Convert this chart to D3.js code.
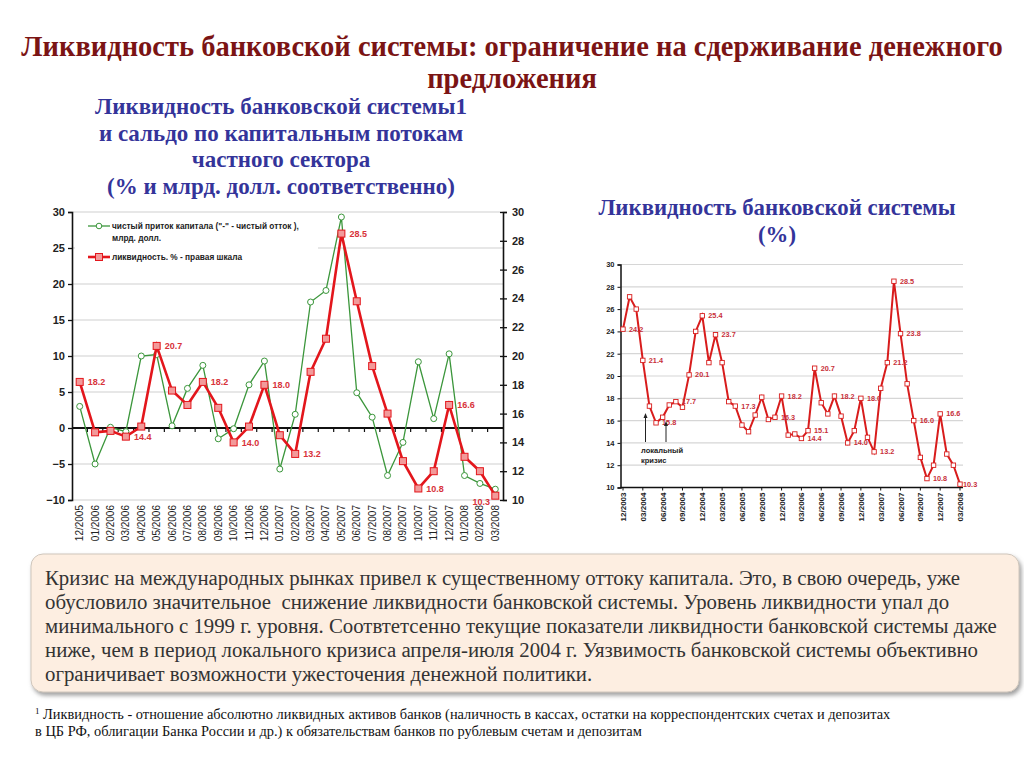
<!DOCTYPE html>
<html><head><meta charset="utf-8">
<script src="https://cdn.jsdelivr.net/npm/d3@7"></script>
<style>
html,body{margin:0;padding:0;background:#fff;}
svg{display:block;}
</style></head>
<body>
<svg id="chart" width="1024" height="767"></svg>
<script>
// ---------- DATA ----------
const months = ["12/2003","01/2004","02/2004","03/2004","04/2004","05/2004","06/2004","07/2004","08/2004","09/2004","10/2004","11/2004","12/2004",
"01/2005","02/2005","03/2005","04/2005","05/2005","06/2005","07/2005","08/2005","09/2005","10/2005","11/2005","12/2005",
"01/2006","02/2006","03/2006","04/2006","05/2006","06/2006","07/2006","08/2006","09/2006","10/2006","11/2006","12/2006",
"01/2007","02/2007","03/2007","04/2007","05/2007","06/2007","07/2007","08/2007","09/2007","10/2007","11/2007","12/2007",
"01/2008","02/2008","03/2008"];
// liquidity of banking system, %
const liquidity = [24.2,27.1,26.0,21.4,17.3,15.8,16.3,17.4,17.7,17.2,20.1,24.0,25.4,
21.2,23.7,21.2,17.7,17.3,15.6,15.0,16.5,18.1,16.1,16.3,18.2,
14.7,14.8,14.4,15.1,20.7,17.6,16.6,18.2,16.4,14.0,15.1,18.0,
14.5,13.2,18.9,21.2,28.5,23.8,19.3,16.0,12.7,10.8,12.0,16.6,
13.0,12.0,10.3];
// left chart categories (12/2005 - 03/2008)
const leftCategories = months.slice(24);
// net private capital inflow, bn USD
const capitalFlow = [3.0,-5.0,0.1,-0.5,10.0,10.2,0.3,5.5,8.7,-1.5,-0.1,6.0,9.3,-5.7,1.9,17.5,19.1,29.3,4.9,1.5,-6.6,-2.0,9.2,1.3,10.3,-6.6,-7.7,-8.5];
const leftLiquidity = liquidity.slice(24);
const leftLabelIdx = [0,3,5,8,10,12,14,17,22,24,27];
const rightLabelIdx = [0,3,5,8,10,12,14,17,23,24,27,28,29,32,34,36,38,40,41,42,44,46,48,51];
const leftTicksL = [-10,-5,0,5,10,15,20,25,30];
const leftTicksR = [10,12,14,16,18,20,22,24,26,28,30];
const rightTicks = [10,12,14,16,18,20,22,24,26,28,30];
const legendLabels = ['чистый приток капитала ("-" - чистый отток ),','млрд. долл.','ликвидность. % - правая шкала'];

const svg = d3.select("#chart");
const defs = svg.append("defs");
const f = defs.append("filter").attr("id","sh").attr("x","-5%").attr("y","-10%").attr("width","112%").attr("height","130%");
f.append("feDropShadow").attr("dx",2).attr("dy",3).attr("stdDeviation",2).attr("flood-color","#777").attr("flood-opacity",0.7);

// ---------- TITLES ----------
const serif = "'Liberation Serif','Times New Roman',serif";
const sans = "'Liberation Sans',Arial,sans-serif";
svg.append("text").attr("x",512).attr("y",56).attr("text-anchor","middle")
  .style("font-family",serif).style("font-weight","bold").style("font-size","28.5px").attr("fill","#7b1414")
  .text("Ликвидность банковской системы: ограничение на сдерживание денежного");
svg.append("text").attr("x",512).attr("y",88).attr("text-anchor","middle")
  .style("font-family",serif).style("font-weight","bold").style("font-size","28.5px").attr("fill","#7b1414")
  .text("предложения");
const sub1 = ["Ликвидность банковской системы1","и сальдо по капитальным потокам","частного сектора","(% и млрд. долл. соответственно)"];
sub1.forEach((t,i)=>svg.append("text").attr("x",281).attr("y",114+i*26.5).attr("text-anchor","middle")
  .style("font-family",serif).style("font-weight","bold").style("font-size","23px").attr("fill","#34349a").text(t));
["Ликвидность банковской системы","(%)"].forEach((t,i)=>svg.append("text").attr("x",777).attr("y",215+i*27).attr("text-anchor","middle")
  .style("font-family",serif).style("font-weight","bold").style("font-size","22.8px").attr("fill","#34349a").text(t));

// ---------- LEFT CHART ----------
const L = {x0:72, x1:503, y0:212, y1:500};
const xL = d3.scalePoint().domain(leftCategories).range([L.x0,L.x1]).padding(0.5);
const yL = d3.scaleLinear().domain([-10,30]).range([L.y1,L.y0]);
const yR = d3.scaleLinear().domain([10,30]).range([L.y1,L.y0]);
const gL = svg.append("g");
// grid
gL.selectAll(".grid").data(leftTicksL.filter(v=>v!==0)).enter().append("line")
  .attr("x1",L.x0).attr("x2",L.x1).attr("y1",d=>yL(d)).attr("y2",d=>yL(d))
  .attr("stroke","#cfcfcf").attr("stroke-width",1);
// left axis
const axL = gL.append("g").attr("transform",`translate(${L.x0},0)`).call(d3.axisLeft(yL).tickValues(leftTicksL).tickSize(4).tickPadding(3));
axL.select(".domain").attr("stroke","#111").attr("stroke-width",1.6);
axL.selectAll("line").attr("stroke","#111").attr("stroke-width",1.3);
axL.selectAll("text").style("font-family",sans).style("font-size","11px").style("font-weight","bold").attr("fill","#222");
// right axis
const axR = gL.append("g").attr("transform",`translate(${L.x1},0)`).call(d3.axisRight(yR).tickValues(leftTicksR).tickSize(4).tickPadding(5));
axR.select(".domain").attr("stroke","#111").attr("stroke-width",1.6);
axR.selectAll(".tick line").attr("x1",-3).attr("stroke","#111").attr("stroke-width",1.3);
axR.selectAll("text").style("font-family",sans).style("font-size","11px").style("font-weight","bold").attr("fill","#222");
// zero line with category ticks
gL.append("line").attr("x1",L.x0).attr("x2",L.x1).attr("y1",yL(0)).attr("y2",yL(0)).attr("stroke","#111").attr("stroke-width",1.8);
const stepL = xL.step();
gL.selectAll(".ztick").data(leftCategories.slice(1)).enter().append("line")
  .attr("x1",d=>xL(d)-stepL/2).attr("x2",d=>xL(d)-stepL/2).attr("y1",yL(0)).attr("y2",yL(0)+4)
  .attr("stroke","#111").attr("stroke-width",1.2);
// x labels
gL.selectAll(".xl").data(leftCategories).enter().append("text")
  .attr("transform",d=>`translate(${xL(d)+3.5},${L.y1+5}) rotate(-90)`).attr("text-anchor","end")
  .style("font-family",sans).style("font-size","10px").attr("fill","#222").text(d=>d);
// green line
const lineG = d3.line().x((d,i)=>xL(leftCategories[i])).y(d=>yL(d));
gL.append("path").datum(capitalFlow).attr("d",lineG).attr("fill","none").attr("stroke","#3b963b").attr("stroke-width",1.3);
gL.selectAll(".gp").data(capitalFlow).enter().append("circle")
  .attr("cx",(d,i)=>xL(leftCategories[i])).attr("cy",d=>yL(d)).attr("r",3)
  .attr("fill","#fff").attr("stroke","#3b963b").attr("stroke-width",1);
// red line
const lineR = d3.line().x((d,i)=>xL(leftCategories[i])).y(d=>yR(d));
gL.append("path").datum(leftLiquidity).attr("d",lineR).attr("fill","none").attr("stroke","#e3161c").attr("stroke-width",2.6);
gL.selectAll(".rp").data(leftLiquidity).enter().append("rect")
  .attr("x",(d,i)=>xL(leftCategories[i])-3.5).attr("y",d=>yR(d)-3.5).attr("width",7).attr("height",7)
  .attr("fill","#f29a9a").attr("stroke","#e3161c").attr("stroke-width",1);
// labels
gL.selectAll(".rl").data(leftLabelIdx).enter().append("text")
  .attr("x",i=> i===27 ? xL(leftCategories[i])-14 : xL(leftCategories[i])+8)
  .attr("y",i=> i===27 ? yR(leftLiquidity[i])+9 : yR(leftLiquidity[i])+3.5)
  .attr("text-anchor",i=> i===27 ? "middle":"start")
  .style("font-family",sans).style("font-size","9px").style("font-weight","bold").attr("fill","#d8323a")
  .text(i=>leftLiquidity[i].toFixed(1));
// legend
const lg = gL.append("g");
lg.append("rect").attr("x",75).attr("y",215).attr("width",243).attr("height",52).attr("fill","#fff");
lg.append("line").attr("x1",88).attr("x2",110).attr("y1",226).attr("y2",226).attr("stroke","#3b963b").attr("stroke-width",1.3);
lg.append("circle").attr("cx",99).attr("cy",226).attr("r",2.8).attr("fill","#fff").attr("stroke","#3b963b");
lg.append("line").attr("x1",88).attr("x2",110).attr("y1",257).attr("y2",257).attr("stroke","#e3161c").attr("stroke-width",2.6);
lg.append("rect").attr("x",95.5).attr("y",253.5).attr("width",7).attr("height",7).attr("fill","#f29a9a").attr("stroke","#e3161c");
[[legendLabels[0],229],[legendLabels[1],241],[legendLabels[2],260]].forEach(([t,y])=>
  lg.append("text").attr("x",112).attr("y",y).style("font-family",sans).style("font-size","8.3px").style("font-weight","bold").attr("fill","#222").text(t));

// ---------- RIGHT CHART ----------
const R = {x0:620.5, x1:963, y0:264.5, y1:487.5};
const xR2 = d3.scalePoint().domain(months).range([623,960]);
const yR2 = d3.scaleLinear().domain([10,30]).range([R.y1,R.y0]);
const gR = svg.append("g");
gR.selectAll(".g2").data(rightTicks.filter(v=>v!==10)).enter().append("line")
  .attr("x1",R.x0).attr("x2",R.x1).attr("y1",d=>yR2(d)).attr("y2",d=>yR2(d))
  .attr("stroke","#d6d6d6").attr("stroke-width",1.2);
const ax2 = gR.append("g").attr("transform",`translate(${R.x0},0)`).call(d3.axisLeft(yR2).tickValues(rightTicks).tickSize(3).tickPadding(3));
ax2.select(".domain").attr("stroke","#111").attr("stroke-width",1.5);
ax2.selectAll("line").attr("stroke","#111");
ax2.selectAll("text").style("font-family",sans).style("font-size","7.5px").style("font-weight","bold").attr("fill","#222");
gR.append("line").attr("x1",R.x0).attr("x2",R.x1).attr("y1",R.y1).attr("y2",R.y1).attr("stroke","#111").attr("stroke-width",1.5);
const qMonths = months.filter((m,i)=>i%3===0);
gR.selectAll(".qt").data(qMonths).enter().append("line")
  .attr("x1",d=>xR2(d)).attr("x2",d=>xR2(d)).attr("y1",R.y1).attr("y2",R.y1+3).attr("stroke","#111");
gR.selectAll(".qx").data(qMonths).enter().append("text")
  .attr("transform",d=>`translate(${xR2(d)+3},${R.y1+5}) rotate(-90)`).attr("text-anchor","end")
  .style("font-family",sans).style("font-size","8px").style("font-weight","bold").attr("fill","#222").text(d=>d);
const line2 = d3.line().x((d,i)=>xR2(months[i])).y(d=>yR2(d));
gR.append("path").datum(liquidity).attr("d",line2).attr("fill","none").attr("stroke","#d81c1c").attr("stroke-width",2);
gR.selectAll(".p2").data(liquidity).enter().append("rect")
  .attr("x",(d,i)=>xR2(months[i])-2.2).attr("y",d=>yR2(d)-2.2).attr("width",4.4).attr("height",4.4)
  .attr("fill","#fff").attr("stroke","#d81c1c").attr("stroke-width",0.9);
gR.selectAll(".l2").data(rightLabelIdx).enter().append("text")
  .attr("x",i=> i===51 ? xR2(months[i])+3 : xR2(months[i])+6)
  .attr("y",i=>yR2(liquidity[i])+2.5)
  .style("font-family",sans).style("font-size","7.3px").style("font-weight","bold").attr("fill","#c8303a")
  .text(i=>liquidity[i].toFixed(1));
// annotation arrows
function arrow(x, yTop, yBot){
  gR.append("line").attr("x1",x).attr("x2",x).attr("y1",yBot).attr("y2",yTop+4).attr("stroke","#222").attr("stroke-width",1);
  gR.append("path").attr("d",`M${x-2},${yTop+5} L${x},${yTop} L${x+2},${yTop+5} Z`).attr("fill","#222");
}
arrow(645.5, 413, 442);
arrow(666, 421, 442);
gR.append("text").attr("x",641).attr("y",453).style("font-family",sans).style("font-size","7.5px").style("font-weight","bold").attr("fill","#222").text("локальный");
gR.append("text").attr("x",641).attr("y",463).style("font-family",sans).style("font-size","7.5px").style("font-weight","bold").attr("fill","#222").text("кризис");

// ---------- TEXT BOX ----------
svg.append("rect").attr("x",31).attr("y",554).attr("width",988).attr("height",138).attr("rx",12)
  .attr("fill","#fdeee1").attr("stroke","#cfc6bc").attr("stroke-width",1).attr("filter","url(#sh)");
const para = ["Кризис на международных рынках привел к существенному оттоку капитала. Это, в свою очередь, уже",
"обусловило значительное  снижение ликвидности банковской системы. Уровень ликвидности упал до",
"минимального с 1999 г. уровня. Соотвтетсенно текущие показатели ликвидности банковской системы даже",
"ниже, чем в период локального кризиса апреля-июля 2004 г. Уязвимость банковской системы объективно",
"ограничивает возможности ужесточения денежной политики."];
para.forEach((t,i)=>svg.append("text").attr("x",45).attr("y",585+i*24).attr("xml:space","preserve")
  .style("font-family",serif).style("font-size","20.8px").style("white-space","pre").attr("fill","#333").text(t));
// footnote
const fn = svg.append("text").attr("x",35).attr("y",719).style("font-family",serif).style("font-size","14.4px").attr("fill","#111");
fn.append("tspan").attr("font-size","9px").attr("dy",-5).text("1");
fn.append("tspan").attr("dy",5).text(" Ликвидность - отношение абсолютно ликвидных активов банков (наличность в кассах, остатки на корреспондентских счетах и депозитах");
svg.append("text").attr("x",35).attr("y",736).style("font-family",serif).style("font-size","14.4px").attr("fill","#111")
  .text("в ЦБ РФ, облигации Банка России и др.) к обязательствам банков по рублевым счетам и депозитам");
</script>
</body></html>
